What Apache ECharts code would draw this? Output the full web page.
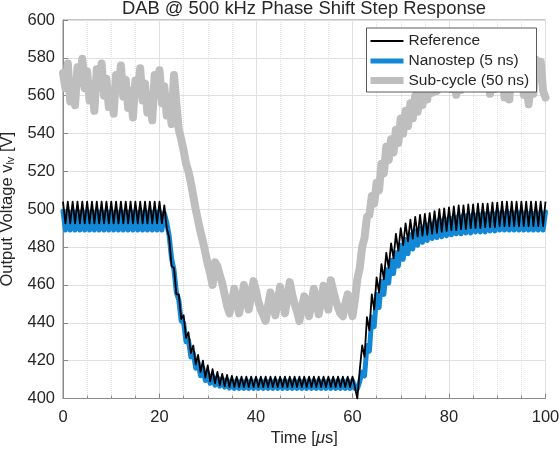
<!DOCTYPE html>
<html>
<head>
<meta charset="utf-8">
<script src="https://cdn.jsdelivr.net/npm/echarts/dist/echarts.min.js"></script>
<style>html,body{margin:0;padding:0;background:#fff}#c{width:560px;height:450px}</style>
</head>
<body>
<div id="c"></div>
<script>
// Samples every 0.5 us, t = 0 ... 100 us
const timeStepUs = 0.5;
const titleText = 'DAB @ 500 kHz Phase Shift Step Response';
const seriesNames = ['Reference', 'Nanostep (5 ns)', 'Sub-cycle (50 ns)'];
const xTickInterval = 20;
const yTickInterval = 20;

const referenceV = [
504,492.5,504,492.5,504,492.5,504,492.5,504,492.5,
504,492.5,504,492.5,504,492.5,504,492.5,504,492.5,
504,492.5,504,492.5,504,492.5,504,492.5,504,492.5,
504,492.5,504,492.5,504,492.5,504,492.5,504,492.5,
504,492.5,502,490,485,470,469,455,455,442,
444,432,435,424,428,418,423,414,420,411,
417.5,409,415.5,408,414,407,413,406.5,412.5,406,
412,406,411.5,406,411.5,406,411.5,406,411.5,406,
411.5,406,411.5,406,411.5,406,411.5,406,411.5,406,
411.5,406,411.5,406,411.5,406,411.5,406,411.5,406,
411.5,406,411.5,406,411.5,406,411.5,406,411.5,406,
411.5,406,411.5,406,411.5,406,411.5,406,411.5,406,
411.5,406,400,415,428,422,443,436,455,447,
464,456,471,463,477,469,482,474,487,478,
490,481,492.5,483,494.5,484.5,496,485.5,497,486,
497.5,486.5,498,487,499,487.5,500,488,500.5,488.5,
501,489,501.5,489,502,489.5,502,489.5,502.5,490,
502.5,490,503,490,503,490.5,503,490.5,503.5,490.5,
503.5,491,504,491,504,491,504,491,504,491,
504,491,504,491,504,491,504,491,504,491,
504];

const nanostepV = [
499,489,499,489,499,489,499,489,499,489,
499,489,499,489,499,489,499,489,499,489,
499,489,499,489,499,489,499,489,499,489,
499,489,499,489,499,489,499,489,499,489,
499,489,498,493,486,474,468,456,452,441,
440,430,431,422,424,416,419,412,416,409.5,
413.5,408,412,407,411,406.5,410.5,406,410,405.5,
409.5,405.3,409.5,405.3,409.5,405.3,409.5,405.3,409.5,405.3,
409.5,405.3,409.5,405.3,409.5,405.3,409.5,405.3,409.5,405.3,
409.5,405.3,409.5,405.3,409.5,405.3,409.5,405.3,409.5,405.3,
409.5,405.3,409.5,405.3,409.5,405.3,409.5,405.3,409.5,405.3,
409.5,405.3,409.5,405.3,409.5,405.3,409.5,405.3,409.5,405.3,
409.5,405.3,405,409,414,412,428,425,443,438,
455,448,462,455,468,461,473,466,477,470,
481,473.5,484,476.5,486.5,479,488.5,481,490,482.5,
491.5,483.5,492.5,484.5,493.5,485,494.5,485.5,495,486,
495.5,486.5,496,487,496.5,487,497,487.5,497,487.5,
497.5,488,497.5,488,498,488,498,488.5,498,488.5,
498.5,489,498.5,489,498.5,489,498.5,489,498.5,489,
498.5,489,498.5,489,498.5,489,498.5,489,498.5,489,
498.5];

const subcycleV = [
572,564,577,557,567.5,555,575,566.5,579.5,564,
573,557.5,566,552,574,566,577,560,569,554,
563,550.5,571,563.5,576,559.5,568.5,553.5,562.5,548.5,
568,561.5,574.5,557.5,566.5,551,560,547,571,561.5,
573.5,556,565,549.5,558,545,571,556,542,537,
531,524,520,514,507,500,494,488,483,477,
471,466,460,472,470,465,461,455,449,445,
451,458,451,445,452,460,453,447,455,462,
457,451,447,444,441,449,456,450,444,451,
459,452,445,453,461.5,455,450,446,441,448,
454,449,443.5,451,458,451,444.5,452,459.5,453,
447,462.5,457,452,448,445,443.5,450,455,449,
443.5,452,463,469,480,485,496,497,507,503,
514,510,524,519,533,526,537,530,542,535,
548,540,552,544,556,548,560,551.5,563,555,
566,558,572,561.5,574.5,562.5,577,567.5,580,566.5,
577,563.5,574,560.5,571.5,563,578.5,568,579,565.5,
576.5,564,578,568,579,565,575,561,572,563.5,
579,568.5,578,559,570,558,578,568,579,565,
575,560.5,569.5,555.5,567,561,579,569,578,562.5,
559];

const toPairs = vals => vals.map((v, i) => [i * timeStepUs, v]);

const fontFam = '"Liberation Sans", Arial, Helvetica, sans-serif';
const textCol = '#262626';
const axisGray = '#8a8a8a';
const gridCol = '#e0e0e0';
const colors = {ref: '#000000', nano: '#1388d6', sub: '#bebebe'};

const chart = echarts.init(document.getElementById('c'), null, {renderer: 'canvas'});

const legendBase = {
  left: 370.5, padding: 0, itemWidth: 33, selectedMode: false, z: 11,
  textStyle: {fontSize: 15.5, color: textCol, fontFamily: fontFam}
};

chart.setOption({
  animation: false,
  backgroundColor: '#ffffff',
  textStyle: {fontFamily: fontFam},
  title: {
    text: titleText, left: 304, top: 0, textAlign: 'center', padding: 0,
    textStyle: {fontSize: 18.4, fontWeight: 'normal', color: textCol, fontFamily: fontFam}
  },
  grid: {left: 63, right: 14.5, top: 20, bottom: 51.5, containLabel: false, outerBoundsMode: 'none',
    show: true, borderColor: axisGray, borderWidth: 1, backgroundColor: '#fff'},
  graphic: {elements: [{
    type: 'rect', z: 10, silent: true,
    shape: {x: 366.5, y: 28, width: 170, height: 64},
    style: {fill: '#ffffff', stroke: '#303030', lineWidth: 0.8}
  }]},
  legend: [
    Object.assign({}, legendBase, {top: 33, itemHeight: 2,
      data: [{name: seriesNames[0], icon: 'rect', itemStyle: {color: colors.ref, borderWidth: 0}}]}),
    Object.assign({}, legendBase, {top: 53, itemHeight: 5,
      data: [{name: seriesNames[1], icon: 'rect', itemStyle: {color: colors.nano, borderWidth: 0}}]}),
    Object.assign({}, legendBase, {top: 72.5, itemHeight: 7,
      data: [{name: seriesNames[2], icon: 'rect', itemStyle: {color: colors.sub, borderWidth: 0}}]})
  ],
  xAxis: {
    type: 'value', min: 0, max: 100, interval: xTickInterval,
    name: 'Time [{it|\u03bc}s]', nameLocation: 'middle', nameGap: 30,
    nameTextStyle: {fontSize: 16.5, color: textCol, fontFamily: fontFam,
      rich: {it: {fontStyle: 'italic', fontSize: 16.5, color: textCol, fontFamily: fontFam}}},
    axisLine: {show: true, onZero: false, lineStyle: {color: axisGray, width: 1}},
    axisTick: {show: true, inside: true, length: 5, lineStyle: {color: axisGray}},
    minorTick: {show: true, splitNumber: 4, length: 3, lineStyle: {color: axisGray}},
    splitLine: {show: true, lineStyle: {color: gridCol, width: 1}},
    minorSplitLine: {show: true, lineStyle: {color: gridCol, width: 1, type: 'dotted'}},
    axisLabel: {fontSize: 16.5, color: textCol, margin: 10, fontFamily: fontFam, showMinLabel: true, showMaxLabel: true}
  },
  yAxis: {
    type: 'value', min: 400, max: 600, interval: yTickInterval,
    name: 'Output Voltage v{sub|lv} [V]', nameLocation: 'middle', nameGap: 46, nameRotate: 90,
    nameTextStyle: {fontSize: 16.5, color: textCol, fontFamily: fontFam,
      rich: {sub: {fontSize: 11, color: textCol, fontFamily: fontFam, verticalAlign: 'bottom', padding: [7, 0, 0, 0]}}},
    axisLine: {show: true, onZero: false, lineStyle: {color: axisGray, width: 1}},
    axisTick: {show: true, inside: true, length: 5, lineStyle: {color: axisGray}},
    splitLine: {show: true, lineStyle: {color: gridCol, width: 1}},
    axisLabel: {fontSize: 16.5, color: textCol, margin: 8, fontFamily: fontFam, showMinLabel: true, showMaxLabel: true}
  },
  series: [
    {name: seriesNames[2], type: 'line', data: toPairs(subcycleV), symbol: 'none', showSymbol: false, z: 2,
     color: colors.sub, lineStyle: {width: 8, color: colors.sub, join: 'round', cap: 'round'}, clip: true, silent: true},
    {name: seriesNames[1], type: 'line', data: toPairs(nanostepV), symbol: 'none', showSymbol: false, z: 3,
     color: colors.nano, lineStyle: {width: 5, color: colors.nano, join: 'round', cap: 'round'}, clip: true, silent: true},
    {name: seriesNames[0], type: 'line', data: toPairs(referenceV), symbol: 'none', showSymbol: false, z: 4,
     color: colors.ref, lineStyle: {width: 1.8, color: colors.ref, join: 'round'}, clip: true, silent: true}
  ]
});
</script>
</body>
</html>
